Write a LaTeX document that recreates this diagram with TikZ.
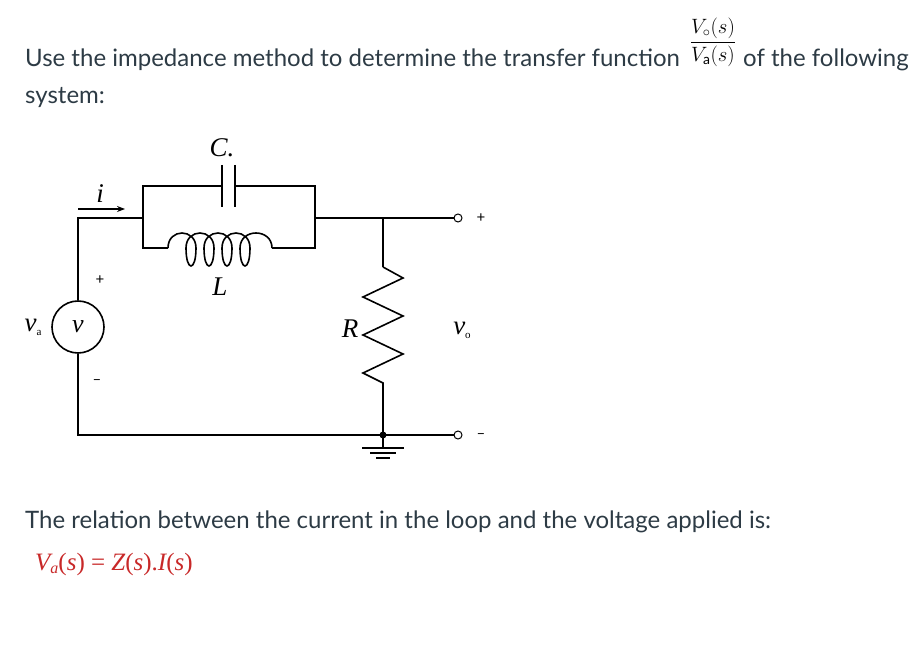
\documentclass[tikz,border=0pt]{standalone}
\usepackage{fontspec}
\setmainfont{Lato}
\newfontfamily\tnr{Liberation Serif}
\usetikzlibrary{arrows.meta}
\definecolor{txt}{RGB}{45,59,69}
\definecolor{redf}{RGB}{200,40,40}
\tikzset{wire/.style={line width=1.6pt,black},
 lab/.style={font=\tnr\fontsize{27}{29}\selectfont\itshape},
 sml/.style={font=\fontsize{15}{16}\selectfont},
 term/.style={circle,draw,line width=1pt,fill=white,minimum size=8pt,inner sep=0pt},
 body/.style={font=\fontsize{24}{28}\selectfont,text=txt,anchor=base west,inner sep=0pt}}
\newcommand\mysub[1]{\raisebox{-4pt}{\upshape\fontsize{11}{11}\selectfont #1}}
\begin{document}
\begin{tikzpicture}[x=1pt,y=-1pt]
\useasboundingbox (0,0) rectangle (918,668);
% text
\node[body] (t1) at (25,67) {Use the impedance method to determine the transfer function};
\node[body] (t2) at (743,67) {of the following};
\node[body] (t3) at (25,104) {system:};
\node[anchor=center,inner sep=0pt,font=\tnr\fontsize{20}{22}\selectfont] (fr) at (713,42) {$\displaystyle\frac{V_{\circ}(s)}{V_{\mathrm{a}}(s)}$};
\node[body] (t4) at (25,528) {The relation between the current in the loop and the voltage applied is:};
\node[body,text=redf,font=\tnr\fontsize{25}{28}\selectfont] (t5) at (35,570) {\itshape V\raisebox{-3pt}{\fontsize{16}{16}\selectfont a}\upshape(\itshape s\upshape) = \itshape Z\upshape(\itshape s\upshape).\itshape I\upshape(\itshape s\upshape)};
% circuit coordinates
\coordinate (tl) at (78,218); \coordinate (bl) at (78,435);
\coordinate (pl) at (143,218); \coordinate (pr) at (315,218);
\coordinate (rn) at (383,218); \coordinate (gn) at (383,435);
\node[circle,draw,line width=1.6pt,minimum size=52pt,inner sep=0pt,font=\tnr\fontsize{26}{28}\selectfont\itshape] (src) at (78,327) {v};
\node[term] (op) at (458,218) {};
\node[term] (om) at (458,435) {};
\draw[wire] (src.north) -- (tl) -- (pl) -- (143,186) -- (222,186);
\draw[wire] (235,186) -- (315,186) -- (pr);
\draw[wire] (222,165) -- (222,207) (235,165) -- (235,207);
\draw[wire] (pl) -- (143,248) -- (168,248);
\draw[wire] (168,248)
  .. controls (168,228) and (196,228) .. (196,248) .. controls (196,272) and (186,272) .. (186,248)
  .. controls (186,228) and (214,228) .. (214,248) .. controls (214,272) and (204,272) .. (204,248)
  .. controls (204,228) and (232,228) .. (232,248) .. controls (232,272) and (222,272) .. (222,248)
  .. controls (222,228) and (250,228) .. (250,248) .. controls (250,272) and (240,272) .. (240,248)
  .. controls (240,228) and (272,228) .. (272,248);
\draw[wire] (272,248) -- (315,248) -- (pr) -- (rn) -- (op);
\draw[wire] (rn) -- (383,267);
\draw[wire] (383,267) -- (403,278) -- (363,297) -- (403,316) -- (363,335) -- (403,354) -- (363,373) -- (383,383) -- (gn);
\draw[wire] (src.south) -- (bl) -- (gn) -- (om);
\fill (gn) circle (3.5pt);
\draw[wire] (gn) -- (383,448);
\draw[line width=1.3pt] (362,448) -- (404,448) (370,453) -- (396,453) (376,458) -- (390,458);
\draw[-{Stealth[length=8pt]},line width=1.3pt] (78,209) -- (125,209);
% labels
\node[lab] (lc) at (222,148) {C.};
\node[lab] (ll) at (220,287) {L};
\node[lab] (lr) at (350,329) {R};
\node[lab] (li) at (100,194) {i};
\node[lab] (lva) at (33,327) {v\mysub{a}};
\node[lab] (lvo) at (462,330) {v\mysub{o}};
\node[sml] (pp) at (100,280) {+};
\node[sml] (mm) at (97,382) {\textendash};
\node[sml] (op2) at (481,218) {+};
\node[sml] (om2) at (481,436) {\textendash};
\end{tikzpicture}
\end{document}
